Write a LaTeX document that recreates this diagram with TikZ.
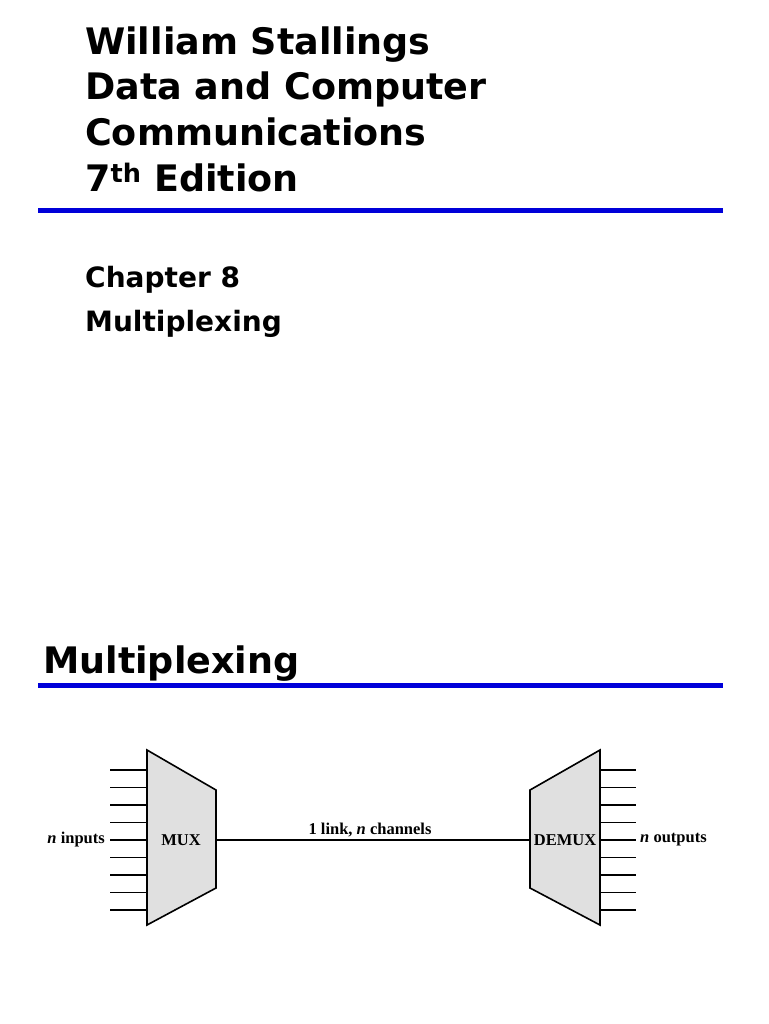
\documentclass[tikz,border=0pt]{standalone}
\usepackage{fontspec}
\setmainfont{DejaVu Sans}
\newfontfamily\tms{Liberation Serif}
\begin{document}
\begin{tikzpicture}[x=1pt,y=-1pt,
  title/.style={anchor=base west,font=\bfseries\fontsize{36.5}{40}\selectfont,inner sep=0},
  sub/.style={anchor=base west,font=\bfseries\fontsize{28}{30}\selectfont,inner sep=0},
  rule/.style={draw=blue!85!black,line width=5pt},
  box/.style={draw,line width=1.6pt,fill=black!12},
  wire/.style={line width=1.3pt},
  lbl/.style={font=\tms\bfseries\fontsize{16.5}{19}\selectfont,inner sep=0}]
\useasboundingbox (0,0) rectangle (768,1024);
\node[title] (t1) at (85,55) {William Stallings};
\node[title] (t2) at (85,100) {Data and Computer};
\node[title] (t3) at (85,146) {Communications};
\node[title] (t4) at (85,192) {7\textsuperscript{th} Edition};
\draw[rule] (38,211) -- (723,211);
\node[sub] (c1) at (85,287) {Chapter 8};
\node[sub] (c2) at (85,331) {Multiplexing};
\node[title] (h) at (43,673) {Multiplexing};
\draw[rule] (38,685) -- (723,685);
\draw[box] (147,750) -- (216,790) -- (216,888) -- (147,925) -- cycle;
\draw[box] (600,750) -- (530,790) -- (530,888) -- (600,925) -- cycle;
\coordinate (mr) at (216,840);
\coordinate (dl) at (530,840);
\foreach \i in {0,...,8}{
  \draw[wire] (110,770+\i*17.5) -- (147,770+\i*17.5);
  \draw[wire] (600,770+\i*17.5) -- (636,770+\i*17.5);
}
\draw[wire] (mr) -- (dl);
\node[lbl] (mux) at (181,840) {MUX};
\node[lbl] (demux) at (565,840) {DEMUX};
\node[lbl,anchor=east] (in) at (105,840) {\textit{n} inputs};
\node[lbl,anchor=west] (out) at (640,840) {\textit{n} outputs};
\node[lbl,anchor=base] (link) at (370,834) {1 link, \textit{n} channels};
\end{tikzpicture}
\end{document}
